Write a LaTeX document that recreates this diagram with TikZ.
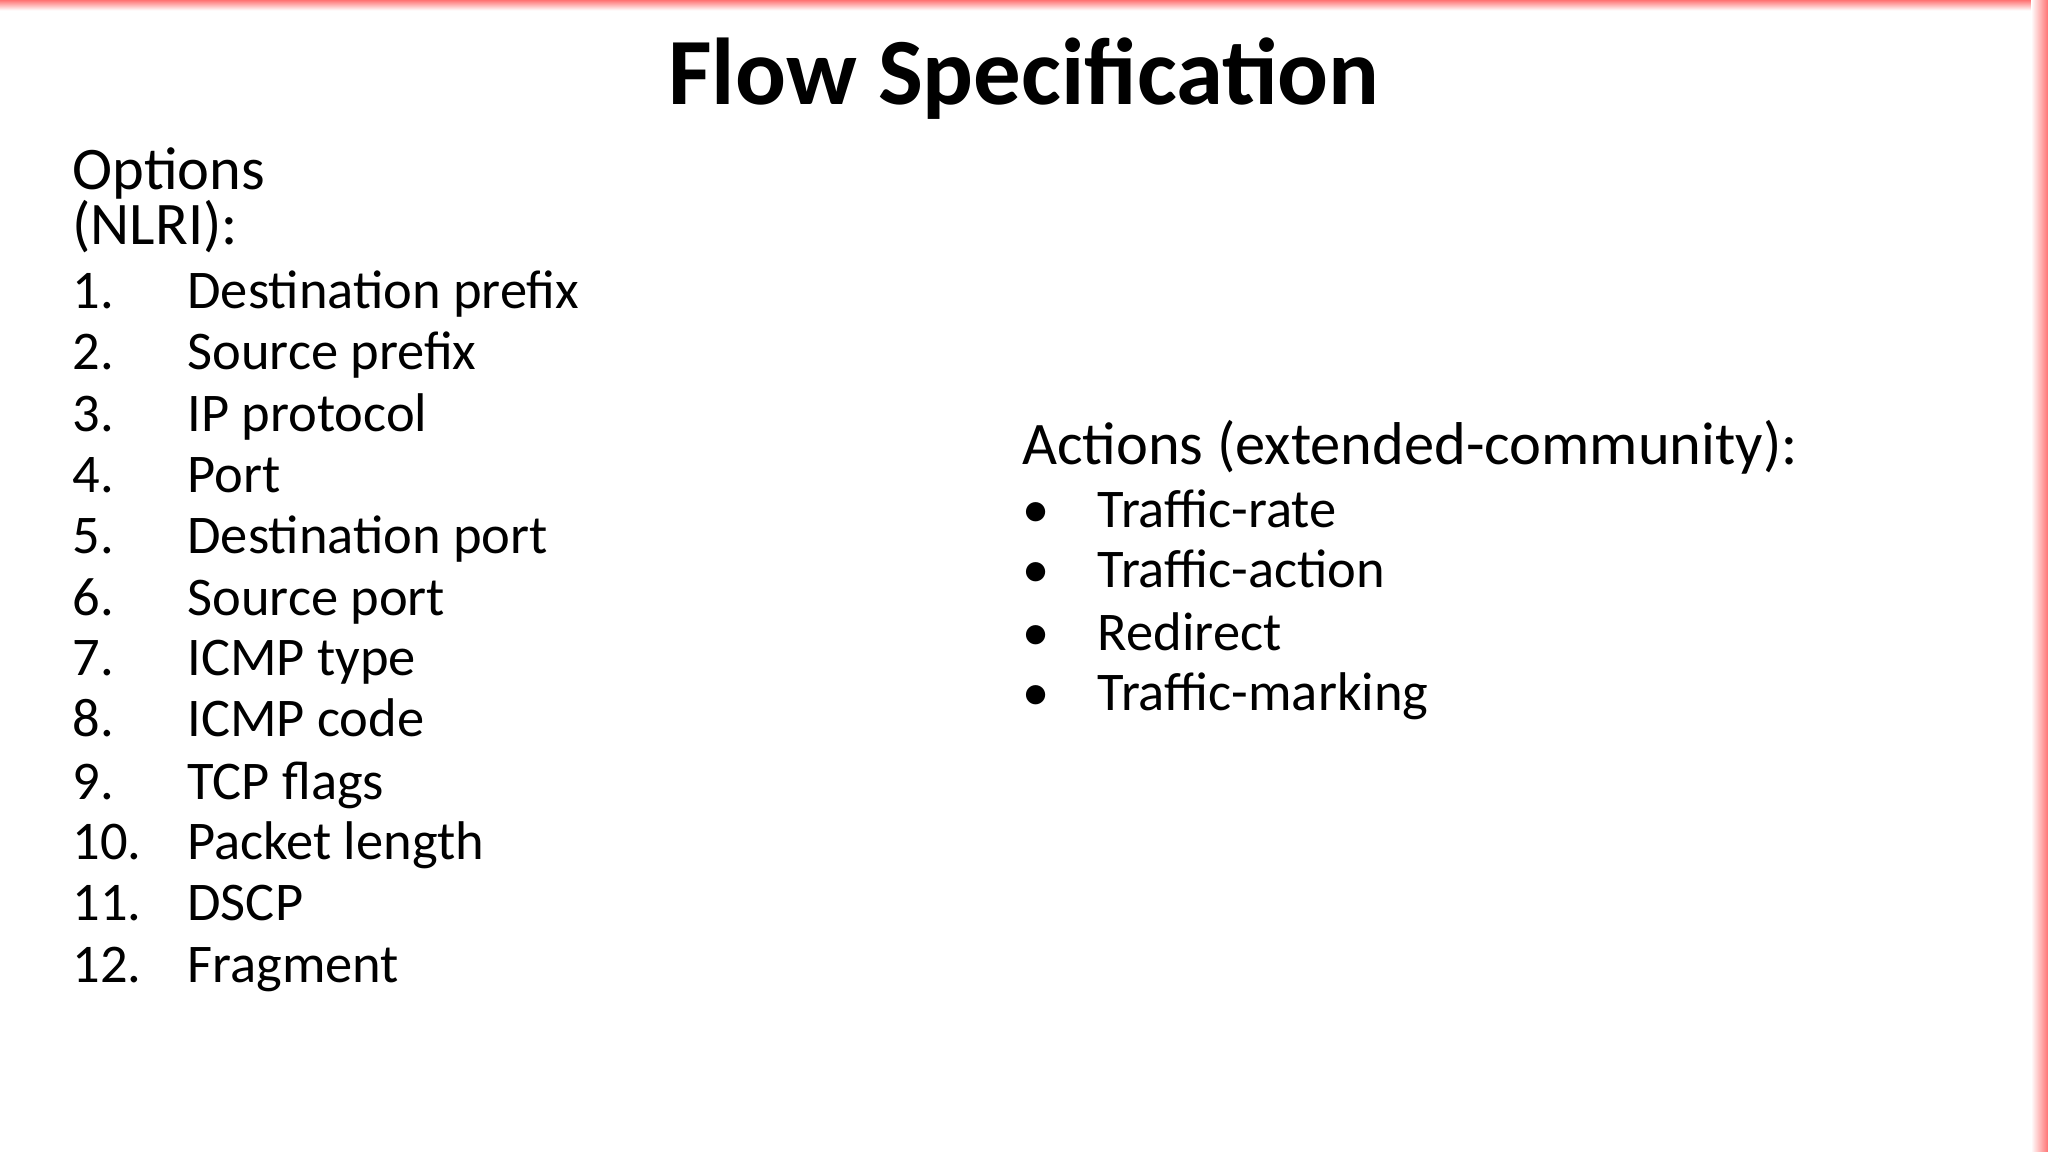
\documentclass[tikz,border=0pt]{standalone}
\usepackage{fontspec}
\setmainfont{Carlito}
\begin{document}
\begin{tikzpicture}[x=0.013061cm,y=-0.013061cm,
  body/.style={anchor=base west,inner sep=0pt,font=\fontsize{15.5}{18}\selectfont},
  head/.style={anchor=base west,inner sep=0pt,font=\fontsize{17.2}{20}\selectfont}]
\useasboundingbox (0,0) rectangle (1568,882);
\fill[white] (0,0) rectangle (1568,882);
\shade[top color=red!55,bottom color=white] (0,0) rectangle (1568,8);
\shade[left color=white,right color=red!55] (1555,0) rectangle (1568,882);
\node[inner sep=0pt,anchor=base,font=\fontsize{27}{30}\bfseries\selectfont] (title) at (784,80) {Flow Specification};
\node[head] (opt1) at (55,145) {Options};
\node[head] (opt2) at (55,187) {(NLRI):};
\foreach \n/\t/\yy in {1/Destination prefix/236,2/Source prefix/283,3/IP protocol/330,4/Port/377,5/Destination port/424,6/Source port/471,7/ICMP type/517,8/ICMP code/564,9/TCP flags/612,10/Packet length/658,11/DSCP/705,12/Fragment/752}{
  \node[body] (num\n) at (55,\yy) {\n.};
  \node[body] (item\n) at (143,\yy) {\t};
}
\node[head] (act) at (782,356) {Actions (extended-community):};
\foreach \i/\t/\yy in {1/Traffic-rate/404,2/Traffic-action/450,3/Redirect/498,4/Traffic-marking/544}{
  \node[body] (bul\i) at (782,\yy) {•};
  \node[body] (act\i) at (840,\yy) {\t};
}
\end{tikzpicture}
\end{document}
